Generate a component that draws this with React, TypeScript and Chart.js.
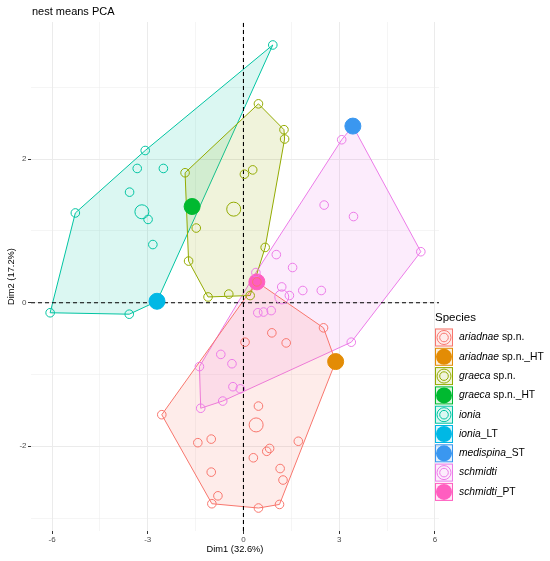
import React, { useEffect, useRef } from "react";
import { Chart, registerables } from "chart.js";

Chart.register(...registerables);

const FONT = "'Liberation Sans', Arial, Helvetica, sans-serif";

const TITLE = "nest means PCA";
const X_TITLE = "Dim1 (32.6%)";
const Y_TITLE = "Dim2 (17.2%)";
const LEGEND_TITLE = "Species";

const SPECIES = [
  "ariadnae sp.n.",
  "ariadnae sp.n._HT",
  "graeca sp.n.",
  "graeca sp.n._HT",
  "ionia",
  "ionia_LT",
  "medispina_ST",
  "schmidti",
  "schmidti_PT",
];
const SPECIES_ITALIC = ["ariadnae", "ariadnae", "graeca", "graeca", "ionia", "ionia", "medispina", "schmidti", "schmidti"];
const SPECIES_COLORS = ["#F8766D", "#E38C05", "#93AA00", "#00B930", "#00C4A2", "#00B8E5", "#3A97F0", "#EC7BE8", "#FF5EC0"];
const SPECIES_FILLED = [false, true, false, true, false, true, true, false, true];

// PCA coordinates [Dim1, Dim2]
const ARIADNAE: [number, number][] = [
  [-2.56, -1.56], [0.47, -1.44], [-1.43, -1.95], [-1.01, -1.9], [1.72, -1.93],
  [0.73, -2.07], [0.82, -2.03], [0.31, -2.16], [-1.01, -2.36], [1.15, -2.31],
  [1.24, -2.47], [-0.8, -2.69], [-0.99, -2.8], [0.47, -2.86], [1.13, -2.81],
  [2.51, -0.35], [0.42, 0.29], [0.05, -0.55], [0.89, -0.42], [1.34, -0.56],
];
const ARIADNAE_HT: [number, number][] = [[2.89, -0.82]];
const GRAECA: [number, number][] = [
  [0.47, 2.77], [1.27, 2.41], [1.29, 2.28], [-1.83, 1.81], [0.03, 1.79],
  [0.29, 1.85], [-1.48, 1.04], [-1.72, 0.58], [0.68, 0.77], [-1.11, 0.08],
  [-0.46, 0.12], [0.21, 0.1],
];
const GRAECA_HT: [number, number][] = [[-1.61, 1.34]];
const IONIA: [number, number][] = [
  [0.92, 3.59], [-3.08, 2.12], [-3.33, 1.87], [-2.51, 1.87], [-3.57, 1.54],
  [-5.27, 1.25], [-2.99, 1.16], [-2.84, 0.81], [-6.06, -0.14], [-3.58, -0.16],
];
const IONIA_LT: [number, number][] = [[-2.71, 0.02]];
const MEDISPINA_ST: [number, number][] = [[3.43, 2.46]];
const SCHMIDTI: [number, number][] = [
  [3.08, 2.27], [2.53, 1.36], [3.45, 1.2], [5.56, 0.71], [1.03, 0.67],
  [1.54, 0.49], [0.39, 0.42], [1.2, 0.22], [1.86, 0.17], [2.44, 0.17],
  [1.44, 0.1], [0.45, -0.14], [0.63, -0.13], [0.87, -0.11], [-0.71, -0.72],
  [-0.36, -0.85], [-1.38, -0.89], [-0.33, -1.17], [-0.1, -1.2], [-0.65, -1.37],
  [-1.34, -1.47], [3.38, -0.55],
];
const SCHMIDTI_PT: [number, number][] = [[0.42, 0.29]];

const SPECIES_POINTS = [ARIADNAE, ARIADNAE_HT, GRAECA, GRAECA_HT, IONIA, IONIA_LT, MEDISPINA_ST, SCHMIDTI, SCHMIDTI_PT];

// convex-hull groups (species with their type specimens)
const GROUP_MEMBERS = [[0, 1], [2, 3], [4, 5], [6, 7, 8]];
const GROUP_COLOR_INDEX = [0, 2, 4, 7];

const X_MIN = -6.66;
const X_MAX = 6.13;
const Y_MIN = -3.18;
const Y_MAX = 3.91;
const X_GRID = [-6, -4.5, -3, -1.5, 0, 1.5, 3, 4.5, 6];
const X_LABELS = [-6, -3, 0, 3, 6];
const Y_GRID = [-3, -2, -1, 0, 1, 2, 3];
const Y_LABELS = [-2, 0, 2];

const FILL_ALPHA = 0.14;

function rgba(hex: string, a: number) {
  const n = parseInt(hex.slice(1), 16);
  return `rgba(${(n >> 16) & 255},${(n >> 8) & 255},${n & 255},${a})`;
}

function convexHull(pts: [number, number][]): [number, number][] {
  const p = [...pts].sort((a, b) => a[0] - b[0] || a[1] - b[1]);
  if (p.length < 3) return p;
  const cross = (o: number[], a: number[], b: number[]) => (a[0] - o[0]) * (b[1] - o[1]) - (a[1] - o[1]) * (b[0] - o[0]);
  const lower: [number, number][] = [];
  for (const q of p) {
    while (lower.length >= 2 && cross(lower[lower.length - 2], lower[lower.length - 1], q) <= 0) lower.pop();
    lower.push(q);
  }
  const upper: [number, number][] = [];
  for (let i = p.length - 1; i >= 0; i--) {
    const q = p[i];
    while (upper.length >= 2 && cross(upper[upper.length - 2], upper[upper.length - 1], q) <= 0) upper.pop();
    upper.push(q);
  }
  upper.pop();
  lower.pop();
  return lower.concat(upper);
}

function buildDatasets() {
  const ds: any[] = [];
  GROUP_MEMBERS.forEach((members, g) => {
    const pts = members.flatMap((m) => SPECIES_POINTS[m]);
    const hull = convexHull(pts);
    const color = SPECIES_COLORS[GROUP_COLOR_INDEX[g]];
    const data = [...hull, hull[0]].map(([x, y]) => ({ x, y }));
    ds.push({
      type: "line",
      data,
      borderColor: color,
      borderWidth: 1,
      backgroundColor: rgba(color, FILL_ALPHA),
      fill: "shape",
      pointRadius: 0,
      tension: 0,
      order: 3,
    });
  });
  ds.push({
    type: "line",
    data: [{ x: 0, y: Y_MIN }, { x: 0, y: Y_MAX }],
    borderColor: "#000",
    borderWidth: 1.1,
    borderDash: [4, 3],
    pointRadius: 0,
    fill: false,
    order: 2,
  });
  ds.push({
    type: "line",
    data: [{ x: X_MIN, y: 0 }, { x: X_MAX, y: 0 }],
    borderColor: "#000",
    borderWidth: 1.1,
    borderDash: [4, 3],
    pointRadius: 0,
    fill: false,
    order: 2,
  });
  GROUP_MEMBERS.forEach((members, g) => {
    const pts = members.flatMap((m) => SPECIES_POINTS[m]);
    const mx = pts.reduce((s, p) => s + p[0], 0) / pts.length;
    const my = pts.reduce((s, p) => s + p[1], 0) / pts.length;
    const color = SPECIES_COLORS[GROUP_COLOR_INDEX[g]];
    ds.push({
      type: "scatter",
      data: [{ x: mx, y: my }],
      pointRadius: 7,
      pointBorderWidth: 1,
      borderColor: color,
      backgroundColor: "rgba(0,0,0,0)",
      order: 1,
    });
  });
  SPECIES.forEach((name, i) => {
    const filled = SPECIES_FILLED[i];
    ds.push({
      type: "scatter",
      label: name,
      data: SPECIES_POINTS[i].map(([x, y]) => ({ x, y })),
      pointRadius: filled ? 8 : 4.3,
      pointBorderWidth: 1,
      borderColor: SPECIES_COLORS[i],
      backgroundColor: filled ? SPECIES_COLORS[i] : "rgba(0,0,0,0)",
      order: 0,
    });
  });
  return ds;
}

const decorPlugin = {
  id: "decor",
  afterDraw(chart: any) {
    const ctx = chart.ctx as CanvasRenderingContext2D;
    ctx.save();
    // title
    ctx.fillStyle = "#000";
    ctx.font = `11px ${FONT}`;
    ctx.textAlign = "left";
    ctx.textBaseline = "alphabetic";
    ctx.fillText(TITLE, 32, 15);
    // legend
    ctx.font = `11.5px ${FONT}`;
    ctx.fillText(LEGEND_TITLE, 435, 321);
    const x0 = 435;
    const top = 328.5;
    const pitch = 19.3;
    const size = 18;
    SPECIES.forEach((name, i) => {
      const y0 = top + i * pitch;
      const color = SPECIES_COLORS[i];
      ctx.fillStyle = rgba(color, FILL_ALPHA);
      ctx.fillRect(x0, y0, size, size);
      ctx.strokeStyle = color;
      ctx.lineWidth = 1;
      ctx.strokeRect(x0 + 0.5, y0 + 0.5, size - 1, size - 1);
      const cx = x0 + size / 2;
      const cy = y0 + size / 2;
      if (SPECIES_FILLED[i]) {
        ctx.fillStyle = color;
        ctx.beginPath();
        ctx.arc(cx, cy, 8, 0, Math.PI * 2);
        ctx.fill();
      } else {
        ctx.beginPath();
        ctx.arc(cx, cy, 4.3, 0, Math.PI * 2);
        ctx.stroke();
        ctx.beginPath();
        ctx.arc(cx, cy, 7, 0, Math.PI * 2);
        ctx.stroke();
      }
      const it = SPECIES_ITALIC[i];
      const rest = name.slice(it.length);
      ctx.fillStyle = "#000";
      ctx.textBaseline = "middle";
      ctx.font = `italic 10.3px ${FONT}`;
      ctx.fillText(it, 459, cy);
      const w = ctx.measureText(it).width;
      ctx.font = `10.3px ${FONT}`;
      ctx.fillText(rest, 459 + w, cy);
    });
    ctx.restore();
  },
};

export default function App() {
  const ref = useRef<HTMLCanvasElement>(null);
  useEffect(() => {
    document.body.style.margin = "0";
    const canvas = ref.current;
    if (!canvas) return;
    const isMajor = (v: number, list: number[]) => list.includes(v);
    const chart = new Chart(canvas, {
      type: "scatter",
      data: { datasets: buildDatasets() },
      options: {
        animation: false,
        responsive: false,
        events: [],
        layout: { padding: { top: 22, right: 111, bottom: 0, left: 0 } },
        plugins: { legend: { display: false }, tooltip: { enabled: false } },
        scales: {
          x: {
            type: "linear",
            min: X_MIN,
            max: X_MAX,
            afterBuildTicks: (s: any) => {
              s.ticks = X_GRID.map((v) => ({ value: v }));
            },
            afterFit: (s: any) => {
              s.height = 30;
            },
            ticks: {
              autoSkip: false,
              maxRotation: 0,
              minRotation: 0,
              padding: 1,
              color: "#4D4D4D",
              font: { family: FONT, size: 8 },
              callback: (v: any) => (X_LABELS.includes(Number(v)) ? String(v) : ""),
            },
            grid: {
              color: "#EBEBEB",
              lineWidth: (c: any) => (isMajor(c.tick?.value, X_LABELS) ? 1 : 0.5),
              tickLength: 3,
              tickWidth: 1,
              tickColor: (c: any) => (isMajor(c.tick?.value, X_LABELS) ? "#333" : "rgba(0,0,0,0)"),
            },
            border: { display: false },
            title: {
              display: true,
              text: X_TITLE,
              color: "#000",
              font: { family: FONT, size: 9.3 },
              padding: { top: 0, bottom: 6.4 },
            },
          },
          y: {
            type: "linear",
            min: Y_MIN,
            max: Y_MAX,
            afterBuildTicks: (s: any) => {
              s.ticks = Y_GRID.map((v) => ({ value: v }));
            },
            afterFit: (s: any) => {
              s.width = 31;
            },
            ticks: {
              autoSkip: false,
              padding: 1.5,
              color: "#4D4D4D",
              font: { family: FONT, size: 8 },
              callback: (v: any) => (Y_LABELS.includes(Number(v)) ? String(v) : ""),
            },
            grid: {
              color: "#EBEBEB",
              lineWidth: (c: any) => (isMajor(c.tick?.value, Y_LABELS) ? 1 : 0.5),
              tickLength: 3,
              tickWidth: 1,
              tickColor: (c: any) => (isMajor(c.tick?.value, Y_LABELS) ? "#333" : "rgba(0,0,0,0)"),
            },
            border: { display: false },
            title: {
              display: true,
              text: Y_TITLE,
              color: "#000",
              font: { family: FONT, size: 9.3 },
              padding: { top: 6.1, bottom: 0 },
            },
          },
        },
      },
      plugins: [decorPlugin],
    } as any);
    return () => chart.destroy();
  }, []);
  return (
    <div style={{ width: 550, height: 561 }}>
      <canvas ref={ref} width={550} height={561} style={{ display: "block" }} />
    </div>
  );
}
